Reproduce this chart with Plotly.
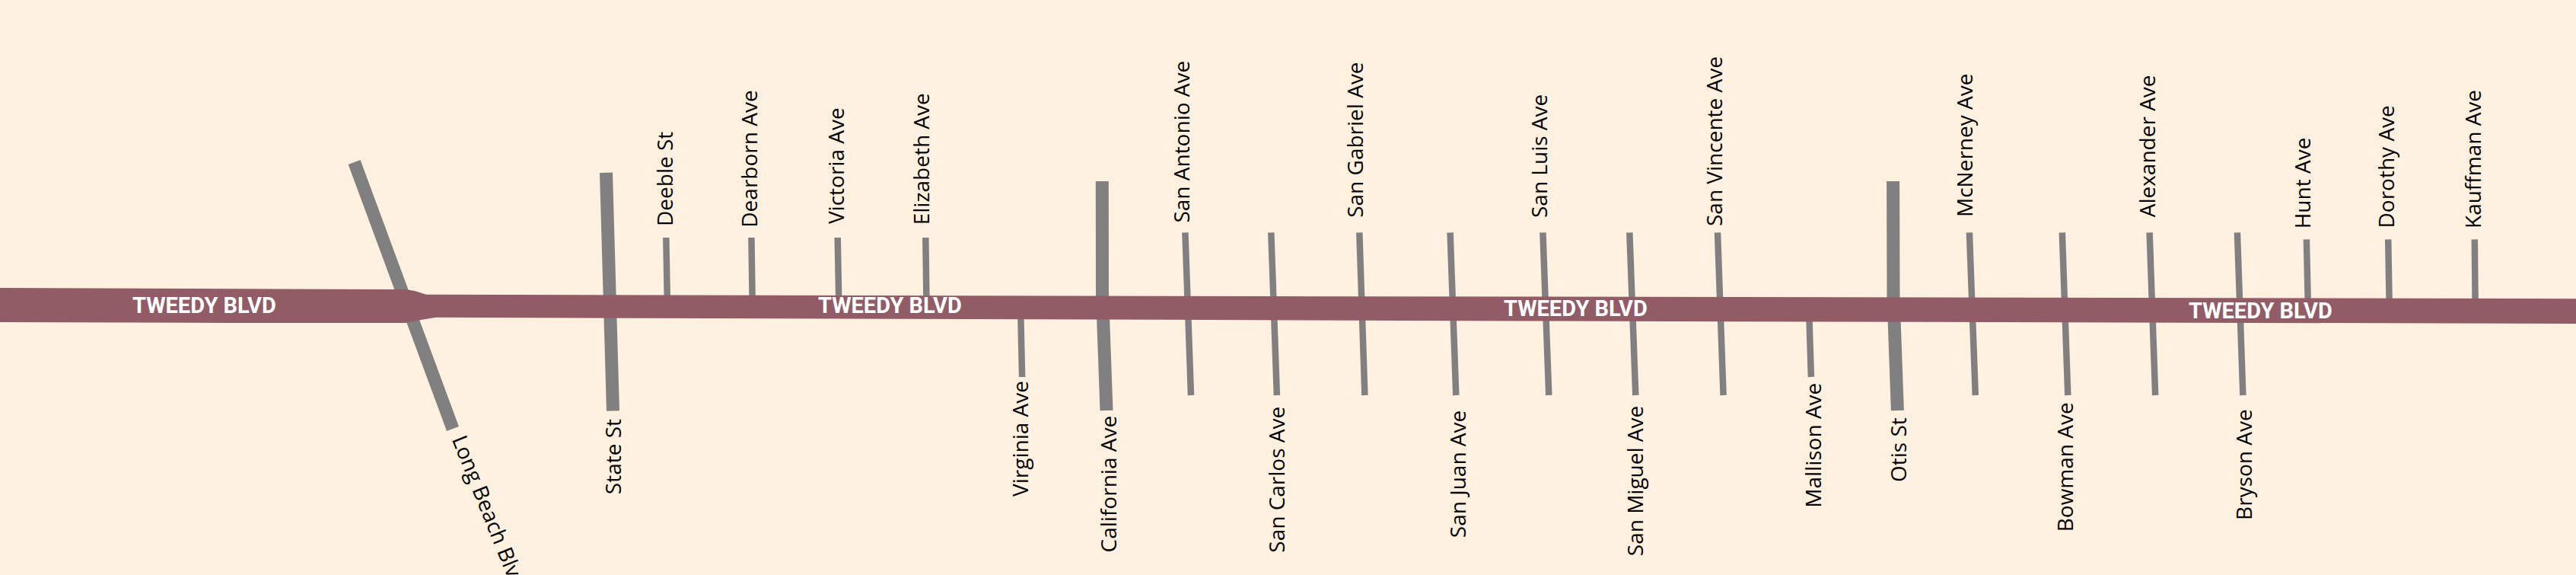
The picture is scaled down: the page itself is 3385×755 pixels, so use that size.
import plotly.graph_objects as go

# road outline
road_x = [0, 300, 533, 545, 560, 3385]
road_top = [378, 379, 380, 382, 386.8, 392.2]
road_x_low = [0, 300, 533, 550, 573, 1000, 2000, 3385]
road_bottom = [423, 424, 424, 420.5, 416.8, 418.7, 421.4, 425]

road_label_x = [268, 1169, 2070, 2970]
road_label_y = [400.8, 400.7, 405, 408]

street_names = [
    "Long Beach Blvd", "State St", "Deeble St", "Dearborn Ave", "Victoria Ave",
    "Elizabeth Ave", "Virginia Ave", "California Ave", "San Antonio Ave",
    "San Carlos Ave", "San Gabriel Ave", "San Juan Ave", "San Luis Ave",
    "San Miguel Ave", "San Vincente Ave", "Mallison Ave", "Otis St",
    "McNerney Ave", "Bowman Ave", "Alexander Ave", "Bryson Ave", "Hunt Ave",
    "Dorothy Ave", "Kauffman Ave",
]
street_x = [
    [465.6, 595], [796.5, 805.5], [875.3, 876.8], [987.4, 988.6], [1100.7, 1102.2],
    [1216.3, 1217.4], [1341.2, 1343.1], [1448.3, 1447, 1448.5, 1454], [1557.4, 1565],
    [1670.3, 1677.9], [1786.3, 1793.4], [1905.6, 1913.3], [2027.4, 2035.3],
    [2141.3, 2149.3], [2257, 2264.6], [2377.2, 2379.9], [2487.6, 2488, 2493.4],
    [2587.9, 2595.8], [2709.8, 2717.3], [2824.6, 2832.2], [2939.9, 2947.4],
    [3030.9, 3032.7], [3138.2, 3139.6], [3251.8, 3252.6],
]
street_y = [
    [213, 563], [226.7, 539.4], [312, 392], [312, 392], [312, 392],
    [312, 392], [410, 495], [238, 297, 387, 539], [305.4, 519],
    [305.4, 519], [305.4, 519], [305.4, 519], [305.4, 519],
    [305.4, 519], [305.4, 519], [410, 495], [238, 390, 539],
    [305.4, 519], [305.4, 519], [305.4, 519], [305.4, 519],
    [314.4, 395], [314.4, 395], [314.4, 395],
]
major_streets = ["Long Beach Blvd", "State St", "California Ave", "Otis St"]

# label anchor: x centre and the end of the text nearest the road
label_x = [
    583, 807.7, 876, 987, 1100.9, 1212.8, 1343, 1458.5, 1555.5, 1680, 1783, 1917.7,
    2025.2, 2151, 2254.5, 2384.7, 2496.5, 2584, 2715.5, 2823.8, 2951, 3028.3, 3137, 3252,
]
label_y = [
    563, 551, 295, 296.7, 291.7, 293, 501, 546.9, 290.6, 534.7, 283.8, 540,
    283.8, 534.7, 295, 504, 549, 283, 529.8, 283, 537.9, 298, 298, 298,
]
label_below = [
    True, True, False, False, False, False, True, True, False, True, False, True,
    False, True, False, True, True, False, True, False, True, False, False, False,
]

fig = go.Figure()

for name, xs, ys in zip(street_names, street_x, street_y):
    fig.add_trace(go.Scatter(
        x=xs, y=ys, mode="lines", name=name, hoverinfo="name",
        line=dict(color="#808080", width=17 if name in major_streets else 8.5),
    ))

fig.add_trace(go.Scatter(
    x=road_x + road_x_low[::-1],
    y=road_top + road_bottom[::-1],
    mode="lines", fill="toself", fillcolor="#925C67",
    line=dict(width=0), name="Tweedy Blvd", hoverinfo="name",
))

for x, y in zip(road_label_x, road_label_y):
    fig.add_annotation(
        x=x, y=y, text="<b>TWEEDY BLVD</b>", showarrow=False,
        font=dict(family="Liberation Sans Narrow, Roboto", size=29, color="white"),
    )

for name, x, y, below in zip(street_names, label_x, label_y, label_below):
    if name == "Long Beach Blvd":
        fig.add_annotation(
            x=x, y=y, text=name, showarrow=False, textangle=68,
            xanchor="left", yanchor="top",
            font=dict(family="Open Sans", size=28, color="black"),
        )
        continue
    fig.add_annotation(
        x=x, y=y, text=name, showarrow=False, textangle=-90,
        xanchor="center", yanchor="top" if below else "bottom",
        xshift=-3, yshift=3 if below else -4,
        font=dict(family="Open Sans", size=28, color="black"),
    )

fig.update_layout(
    width=3385, height=755,
    margin=dict(l=0, r=0, t=0, b=0),
    paper_bgcolor="#FFF0E0", plot_bgcolor="#FFF0E0",
    showlegend=False,
    xaxis=dict(visible=False, range=[0, 3385]),
    yaxis=dict(visible=False, range=[755, 0]),
)

fig.write_html("out.html", config=dict(displayModeBar=False),
               post_script="document.body.style.margin='0';")
